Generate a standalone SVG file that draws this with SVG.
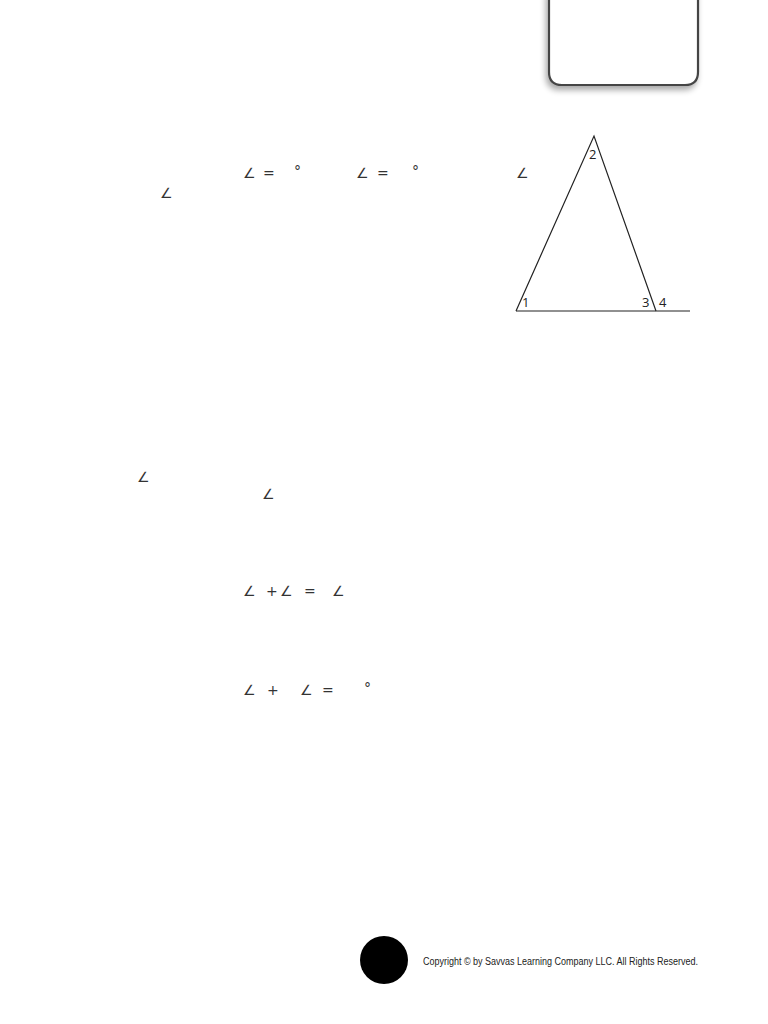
<svg xmlns="http://www.w3.org/2000/svg" width="768" height="1024" viewBox="0 0 768 1024">
<style>
.s{font-family:"DejaVu Sans",sans-serif;font-size:14px;fill:#333}
.n{font-family:"Open Sans","DejaVu Sans",sans-serif;font-size:13px;fill:#222}
.c{font-family:"Liberation Sans",Arial,sans-serif;font-size:10px;fill:#222}
</style>
<defs>
<filter id="sh" x="-20%" y="-20%" width="140%" height="150%">
<feGaussianBlur in="SourceAlpha" stdDeviation="3"/>
<feOffset dx="-2" dy="4"/>
<feComponentTransfer><feFuncA type="linear" slope="0.35"/></feComponentTransfer>
<feMerge><feMergeNode/><feMergeNode in="SourceGraphic"/></feMerge>
</filter>
</defs>
<rect width="768" height="1024" fill="#fff"/>
<g id="box" filter="url(#sh)">
<path d="M549,-10 V72 Q549,85 562,85 H685 Q698,85 698,72 V-10" fill="#fff" stroke="#444" stroke-width="2.2"/>
</g>
<g id="figure" fill="none" stroke="#222" stroke-width="1.2">
<polyline points="516,311 594,136 656,311"/>
<line x1="516" y1="311" x2="690" y2="311"/>
</g>
<g id="labels">
<text class="n" x="589" y="159">2</text>
<text class="n" x="522" y="307">1</text>
<text class="n" x="642" y="307">3</text>
<text class="n" x="659" y="307">4</text>
</g>
<g id="symbols">
<text class="s" x="243" y="178">∠</text>
<text class="s" x="263" y="178">=</text>
<text class="s" x="294" y="176">°</text>
<text class="s" x="356" y="178">∠</text>
<text class="s" x="377" y="178">=</text>
<text class="s" x="412" y="176">°</text>
<text class="s" x="516" y="178">∠</text>
<text class="s" x="160" y="198">∠</text>
<text class="s" x="137" y="482">∠</text>
<text class="s" x="262" y="499">∠</text>
<text class="s" x="243" y="596">∠</text>
<text class="s" x="266" y="596">+</text>
<text class="s" x="280" y="596">∠</text>
<text class="s" x="304" y="596">=</text>
<text class="s" x="332" y="596">∠</text>
<text class="s" x="243" y="695">∠</text>
<text class="s" x="267" y="695">+</text>
<text class="s" x="300" y="695">∠</text>
<text class="s" x="322" y="695">=</text>
<text class="s" x="364" y="693">°</text>
</g>
<g id="footer">
<circle cx="384" cy="960" r="24" fill="#000"/>
<text class="c" x="423" y="965" textLength="275" lengthAdjust="spacingAndGlyphs">Copyright © by Savvas Learning Company LLC. All Rights Reserved.</text>
</g>
</svg>
